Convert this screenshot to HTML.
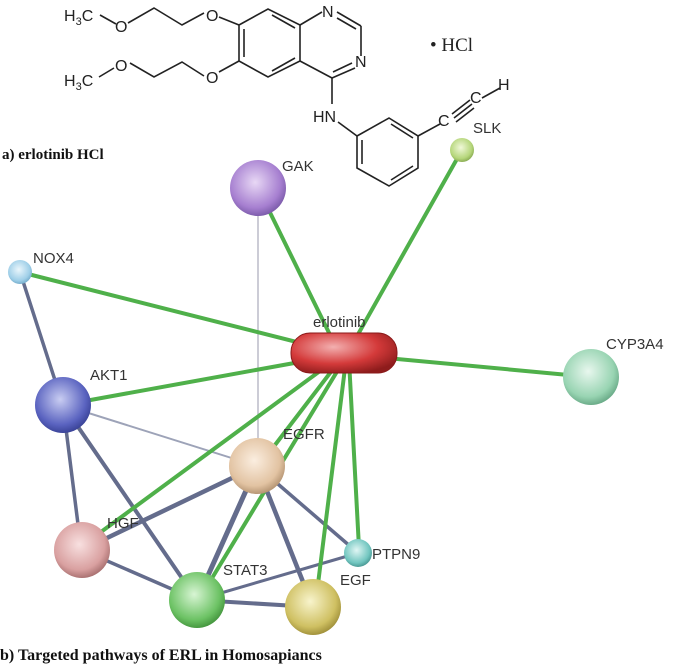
<!DOCTYPE html>
<html><head><meta charset="utf-8"><style>
html,body{margin:0;padding:0;background:#fff;}
svg{display:block}
</style></head><body>
<svg width="685" height="669" viewBox="0 0 685 669" xmlns="http://www.w3.org/2000/svg">
<defs>
<radialGradient id="gR" cx="0.4" cy="0.35" r="0.7"><stop offset="0" stop-color="#f3b0b0"/><stop offset="0.6" stop-color="#d43a3a"/><stop offset="1" stop-color="#8e1c1c"/></radialGradient>
<radialGradient id="gPur" cx="0.45" cy="0.4" r="0.65"><stop offset="0" stop-color="#e8d8f5"/><stop offset="0.7" stop-color="#a67fd0"/><stop offset="1" stop-color="#7051a0"/></radialGradient>
<radialGradient id="gLG" cx="0.45" cy="0.4" r="0.65"><stop offset="0" stop-color="#f0f8d8"/><stop offset="0.7" stop-color="#b5d67a"/><stop offset="1" stop-color="#7ea048"/></radialGradient>
<radialGradient id="gLB" cx="0.45" cy="0.4" r="0.65"><stop offset="0" stop-color="#eaf6fc"/><stop offset="0.7" stop-color="#9fcfe8"/><stop offset="1" stop-color="#6aa4c4"/></radialGradient>
<radialGradient id="gCy" cx="0.45" cy="0.4" r="0.65"><stop offset="0" stop-color="#e8f7ee"/><stop offset="0.7" stop-color="#98d4b2"/><stop offset="1" stop-color="#5d9f7c"/></radialGradient>
<radialGradient id="gBl" cx="0.45" cy="0.4" r="0.65"><stop offset="0" stop-color="#c9cdf2"/><stop offset="0.7" stop-color="#5a63c0"/><stop offset="1" stop-color="#313a8c"/></radialGradient>
<radialGradient id="gTan" cx="0.45" cy="0.4" r="0.65"><stop offset="0" stop-color="#fbeee0"/><stop offset="0.7" stop-color="#e2c3a2"/><stop offset="1" stop-color="#a98866"/></radialGradient>
<radialGradient id="gPk" cx="0.45" cy="0.4" r="0.65"><stop offset="0" stop-color="#f8e0e0"/><stop offset="0.7" stop-color="#d9a0a0"/><stop offset="1" stop-color="#9c6464"/></radialGradient>
<radialGradient id="gTe" cx="0.45" cy="0.4" r="0.65"><stop offset="0" stop-color="#e0f6f4"/><stop offset="0.7" stop-color="#72c6c0"/><stop offset="1" stop-color="#3f8c88"/></radialGradient>
<radialGradient id="gGr" cx="0.45" cy="0.4" r="0.65"><stop offset="0" stop-color="#d8f5d4"/><stop offset="0.7" stop-color="#6cc264"/><stop offset="1" stop-color="#3a8a34"/></radialGradient>
<radialGradient id="gYe" cx="0.45" cy="0.4" r="0.65"><stop offset="0" stop-color="#f8f4cc"/><stop offset="0.7" stop-color="#cfc062"/><stop offset="1" stop-color="#948430"/></radialGradient>
</defs>

<!-- molecule -->
<g stroke="#222" stroke-width="1.6" fill="none">
<polyline points="100,15 116,24"/>
<polyline points="128,23 154,8 182,25 204,13"/>
<line x1="219" y1="17" x2="239" y2="25"/>
<polygon points="239,25 268,9 300,25 300,61 268,77 239,61"/>
<line x1="244" y1="29" x2="244" y2="57"/>
<line x1="272" y1="15" x2="295" y2="28"/>
<line x1="272" y1="71" x2="295" y2="58"/>
<line x1="300" y1="25" x2="322" y2="12"/>
<line x1="337" y1="12" x2="361" y2="26"/>
<line x1="337" y1="18" x2="356" y2="29"/>
<line x1="361" y1="26" x2="361" y2="56"/>
<line x1="355" y1="68" x2="332" y2="78"/>
<line x1="352" y1="63" x2="333" y2="72"/>
<line x1="332" y1="78" x2="300" y2="61"/>
<line x1="239" y1="61" x2="219" y2="72"/>
<polyline points="204,76 182,62 154,77 130,63"/>
<line x1="114" y1="68" x2="99" y2="77"/>
<line x1="332" y1="78" x2="332" y2="104"/>
<line x1="338" y1="122" x2="357" y2="136"/>
<polygon points="357,136 389,118 418,136 418,168 389,186 357,168"/>
<line x1="362" y1="140" x2="362" y2="164"/>
<line x1="391" y1="124" x2="413" y2="138"/>
<line x1="391" y1="180" x2="413" y2="166"/>
<line x1="418" y1="136" x2="440" y2="124"/>
<line x1="454" y1="118" x2="472" y2="104"/>
<line x1="452" y1="114" x2="470" y2="100"/>
<line x1="456" y1="122" x2="474" y2="108"/>
<line x1="482" y1="98" x2="500" y2="88"/>
</g>
<g font-family="Liberation Sans, sans-serif" font-size="16" fill="#222">
<text x="64" y="21">H<tspan font-size="11" dy="4">3</tspan><tspan dy="-4">C</tspan></text>
<text x="115" y="32">O</text>
<text x="206" y="21">O</text>
<text x="322" y="17">N</text>
<text x="355" y="67">N</text>
<text x="206" y="83">O</text>
<text x="115" y="71">O</text>
<text x="64" y="86">H<tspan font-size="11" dy="4">3</tspan><tspan dy="-4">C</tspan></text>
<text x="313" y="122">HN</text>
<text x="438" y="126">C</text>
<text x="470" y="103">C</text>
<text x="498" y="90">H</text>
</g>
<text x="430" y="51" font-family="Liberation Serif, serif" font-size="19" fill="#222">•  HCl</text>
<text x="2" y="159" font-family="Liberation Serif, serif" font-size="15" font-weight="bold" fill="#111">a) erlotinib HCl</text>

<!-- edges -->
<g stroke="#aab" stroke-width="1.2"><line x1="258" y1="210" x2="258" y2="445"/></g>
<g stroke="#646c8c" stroke-linecap="round">
<line x1="20" y1="272" x2="63" y2="405" stroke-width="3.5"/>
<line x1="63" y1="405" x2="257" y2="466" stroke-width="2" stroke="#9da3b8"/>
<line x1="63" y1="405" x2="81" y2="548" stroke-width="3.5"/>
<line x1="63" y1="405" x2="197" y2="600" stroke-width="4"/>
<line x1="257" y1="466" x2="82" y2="550" stroke-width="4.5"/>
<line x1="257" y1="466" x2="197" y2="600" stroke-width="5"/>
<line x1="257" y1="466" x2="313" y2="607" stroke-width="4.5"/>
<line x1="257" y1="466" x2="358" y2="553" stroke-width="3.5"/>
<line x1="82" y1="550" x2="197" y2="600" stroke-width="3.5"/>
<line x1="197" y1="600" x2="313" y2="607" stroke-width="4"/>
<line x1="197" y1="600" x2="358" y2="553" stroke-width="3"/>
</g>
<g stroke="#4fb04a" stroke-width="4" stroke-linecap="round">
<line x1="335" y1="345" x2="258" y2="188"/>
<line x1="352" y1="345" x2="462" y2="150"/>
<line x1="344" y1="354" x2="20" y2="272"/>
<line x1="344" y1="354" x2="590" y2="377"/>
<line x1="344" y1="354" x2="63" y2="405"/>
<line x1="335" y1="360" x2="90" y2="540"/>
<line x1="340" y1="360" x2="262" y2="462"/>
<line x1="344" y1="360" x2="200" y2="598"/>
<line x1="346" y1="360" x2="316" y2="600"/>
<line x1="349" y1="360" x2="359" y2="548"/>
</g>

<!-- nodes -->
<g>
<circle cx="258" cy="188" r="28" fill="url(#gPur)"/>
<circle cx="462" cy="150" r="12" fill="url(#gLG)"/>
<circle cx="20" cy="272" r="12" fill="url(#gLB)"/>
<rect x="291" y="333" width="106" height="40" rx="19" fill="url(#gR)" stroke="#8a1a1a" stroke-width="1"/>
<circle cx="591" cy="377" r="28" fill="url(#gCy)"/>
<circle cx="63" cy="405" r="28" fill="url(#gBl)"/>
<circle cx="257" cy="466" r="28" fill="url(#gTan)"/>
<circle cx="82" cy="550" r="28" fill="url(#gPk)"/>
<circle cx="358" cy="553" r="14" fill="url(#gTe)"/>
<circle cx="197" cy="600" r="28" fill="url(#gGr)"/>
<circle cx="313" cy="607" r="28" fill="url(#gYe)"/>
</g>
<g font-family="Liberation Sans, sans-serif" font-size="15" fill="#333">
<text x="282" y="171">GAK</text>
<text x="473" y="133">SLK</text>
<text x="33" y="263">NOX4</text>
<text x="313" y="327">erlotinib</text>
<text x="606" y="349">CYP3A4</text>
<text x="90" y="380">AKT1</text>
<text x="283" y="439">EGFR</text>
<text x="107" y="528">HGF</text>
<text x="372" y="559">PTPN9</text>
<text x="223" y="575">STAT3</text>
<text x="340" y="585">EGF</text>
</g>
<text x="0" y="660" font-family="Liberation Serif, serif" font-size="16" font-weight="bold" fill="#111">b) Targeted pathways of ERL in Homosapiancs</text>
</svg>
</body></html>
